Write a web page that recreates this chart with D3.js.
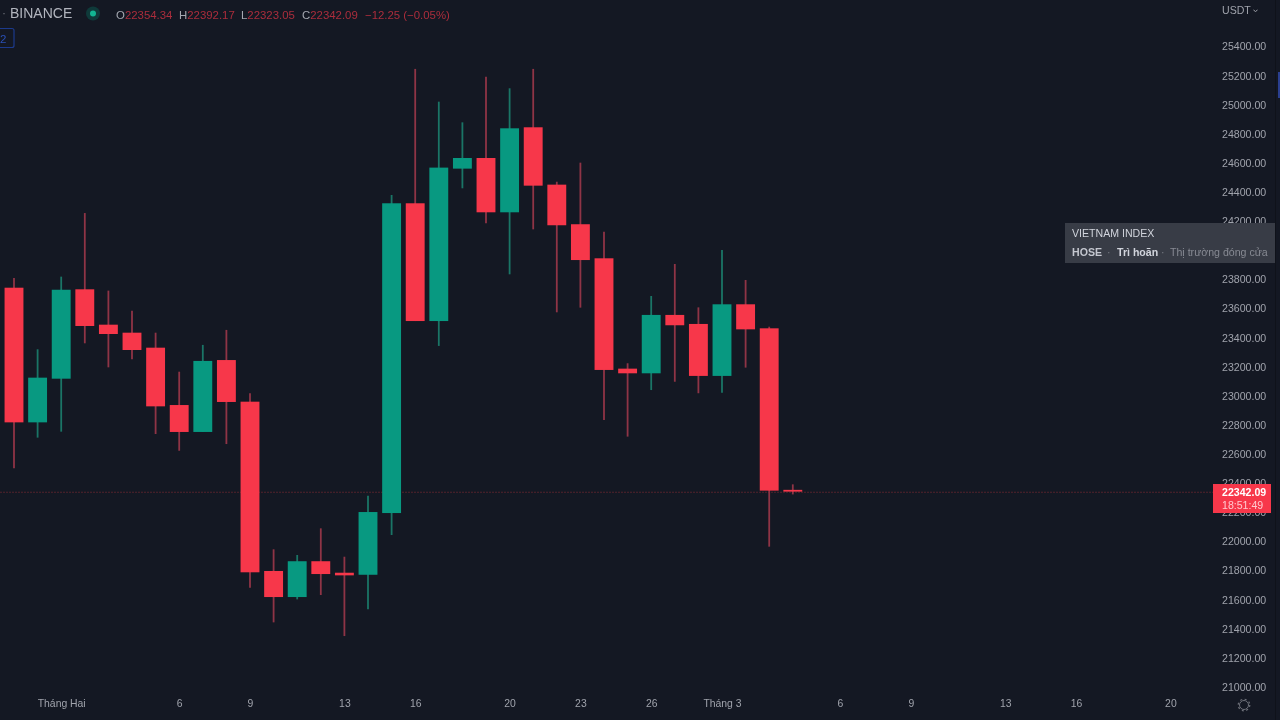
<!DOCTYPE html>
<html>
<head>
<meta charset="utf-8">
<style>
  html, body { margin: 0; padding: 0; background: #141823; overflow: hidden; }
  svg { display: block; filter: blur(0.45px); }
  text { font-family: "Liberation Sans", Arial, sans-serif; }
</style>
<script src="https://cdn.jsdelivr.net/npm/d3@7"></script>
</head>
<body>
<div id="chart"></div>
<script>
const startDate = '2023-01-30';
const opens = [23743, 22818, 23118, 23732, 23489, 23434, 23331, 22937, 22752, 23246, 22960, 21797, 21618, 21864, 21785, 21771, 22195, 24323, 23514, 24561, 24634, 24261, 24845, 24451, 24179, 23945, 23187, 23155, 23556, 23494, 23137, 23629, 23464, 22354.34];
const highs = [23810, 23320, 23819, 24256, 23723, 23585, 23434, 23166, 23350, 23453, 23018, 21946, 21907, 22090, 21895, 22314, 24380, 25246, 25021, 24879, 25193, 25113, 25246, 24471, 24602, 24128, 23224, 23686, 23906, 23608, 24002, 23796, 23475, 22392.17];
const lows = [22502, 22713, 22754, 23361, 23196, 23251, 22738, 22623, 22752, 22669, 21682, 21444, 21602, 21632, 21350, 21534, 22044, 23514, 23343, 24426, 24186, 23835, 24144, 23574, 23606, 22834, 22720, 23040, 23097, 23018, 23022, 23194, 21964, 22323.05];
const closes = [22818, 23125, 23729, 23480, 23425, 23315, 22928, 22752, 23240, 22958, 21788, 21618, 21864, 21776, 21767, 22202, 24323, 23514, 24568, 24634, 24261, 24838, 24444, 24172, 23933, 23178, 23155, 23556, 23485, 23137, 23629, 23457, 22349, 22342.09];

const priceTicks = [21000, 21200, 21400, 21600, 21800, 22000, 22200, 22400, 22600, 22800, 23000, 23200, 23400, 23600, 23800, 24000, 24200, 24400, 24600, 24800, 25000, 25200, 25400];
const timeTickDays = [2, 7, 10, 14, 17, 21, 24, 27, 30, 35, 38, 42, 45, 49];
const timeTickLabels = ['Tháng Hai', '6', '9', '13', '16', '20', '23', '26', 'Tháng 3', '6', '9', '13', '16', '20'];

const lastPrice = 22342.09;

const width = 1280, height = 720;
const upColor = '#089981', downColor = '#f7374a';
const upWick = '#1a7566', downWick = '#8f3446';
const textColor = '#a0a3ac';

const svg = d3.select('#chart').append('svg')
  .attr('width', width)
  .attr('height', height);

svg.append('rect').attr('width', width).attr('height', height).attr('fill', '#141823');

const start = new Date(startDate + 'T00:00:00Z');
const dayDate = i => d3.utcDay.offset(start, i);

const x = d3.scaleUtc().domain([dayDate(0), dayDate(49)]).range([14, 1170.4]);
const y = d3.scaleLinear().domain([21000, 25400]).range([687, 46.5]);

const candles = opens.map((o, i) => ({ i, o, h: highs[i], l: lows[i], c: closes[i] }));
const bodyWidth = (x(dayDate(1)) - x(dayDate(0))) * 0.8;

// Last price line
svg.append('line')
  .attr('x1', 0).attr('x2', 1213)
  .attr('y1', y(lastPrice) + 0.6).attr('y2', y(lastPrice) + 0.6)
  .attr('stroke', '#52222d')
  .attr('stroke-width', 1.2)
  .attr('stroke-dasharray', '2 1');

// Wicks
svg.append('g').selectAll('line')
  .data(candles)
  .join('line')
  .attr('x1', d => x(dayDate(d.i)))
  .attr('x2', d => x(dayDate(d.i)))
  .attr('y1', d => y(d.h))
  .attr('y2', d => y(d.l))
  .attr('stroke', d => d.c >= d.o ? upWick : downWick)
  .attr('stroke-width', 1.8);

// Bodies
svg.append('g').selectAll('rect')
  .data(candles)
  .join('rect')
  .attr('x', d => x(dayDate(d.i)) - bodyWidth / 2)
  .attr('y', d => y(Math.max(d.o, d.c)))
  .attr('width', bodyWidth)
  .attr('height', d => Math.abs(y(d.o) - y(d.c)))
  .attr('fill', d => d.c >= d.o ? upColor : downColor);

// Price axis
const yAxis = svg.append('g')
  .attr('transform', 'translate(1222,0)')
  .call(d3.axisRight(y).tickValues(priceTicks).tickFormat(d3.format('.2f')).tickSize(0).tickPadding(0));
yAxis.select('.domain').remove();
yAxis.selectAll('text')
  .attr('fill', textColor)
  .attr('font-size', 10.6)
  .style('font-family', '"Liberation Sans", Arial, sans-serif');

// Time axis
const xAxis = svg.append('g')
  .attr('transform', 'translate(0,700)')
  .call(d3.axisBottom(x)
    .tickValues(timeTickDays.map(dayDate))
    .tickFormat((d, i) => timeTickLabels[i])
    .tickSize(0).tickPadding(0));
xAxis.select('.domain').remove();
xAxis.selectAll('text')
  .attr('fill', textColor)
  .attr('font-size', 10.4)
  .style('font-family', '"Liberation Sans", Arial, sans-serif');

// Right edge of the price pane
svg.append('line')
  .attr('x1', 1275.5).attr('x2', 1275.5)
  .attr('y1', 0).attr('y2', height)
  .attr('stroke', '#0f121a');
svg.append('rect')
  .attr('x', 1278).attr('y', 72)
  .attr('width', 2).attr('height', 26)
  .attr('fill', '#2a3f8f');

// Header
const header = svg.append('g');
header.append('text').attr('x', 2).attr('y', 17).attr('fill', '#6e717a').attr('font-size', 12).text('·');
header.append('text').attr('x', 10).attr('y', 18).attr('fill', '#b2b5be').attr('font-size', 14).text('BINANCE');
header.append('circle').attr('cx', 93).attr('cy', 13.5).attr('r', 7).attr('fill', '#0f3a3a');
header.append('circle').attr('cx', 93).attr('cy', 13.5).attr('r', 3).attr('fill', '#12b592');

const headerItems = [
  { x: 116, label: 'O', value: opens[33] },
  { x: 179, label: 'H', value: highs[33] },
  { x: 241, label: 'L', value: lows[33] },
  { x: 302, label: 'C', value: closes[33] },
];
headerItems.forEach(d => {
  const t = header.append('text').attr('x', d.x).attr('y', 19).attr('font-size', 11.4);
  t.append('tspan').attr('fill', '#a5a8b1').text(d.label);
  t.append('tspan').attr('fill', '#ab2d3c').text(d3.format('.2f')(d.value));
});
header.append('text').attr('x', 365).attr('y', 19).attr('font-size', 11.4)
  .attr('fill', '#ab2d3c').text('−12.25 (−0.05%)');

svg.append('rect')
  .attr('x', -3).attr('y', 28.5).attr('width', 17).attr('height', 19).attr('rx', 2)
  .attr('fill', 'none').attr('stroke', '#1c3a8c').attr('stroke-width', 1.2);
svg.append('text').attr('x', 0).attr('y', 43).attr('font-size', 11.5).attr('fill', '#2a4fb5').text('2');

svg.append('text').attr('x', 1222).attr('y', 14).attr('font-size', 10.6).attr('fill', textColor).text('USDT');
svg.append('path').attr('d', d3.line()([[1253.5, 10], [1255.5, 11.5], [1257.5, 10]]))
  .attr('fill', 'none').attr('stroke', textColor);

// Market status tooltip
svg.append('rect')
  .attr('x', 1065).attr('y', 223).attr('width', 210).attr('height', 40)
  .attr('fill', '#383c46');
svg.append('text').attr('x', 1072).attr('y', 237).attr('font-size', 10.6).attr('fill', '#d1d4dc').text('VIETNAM INDEX');
const status = svg.append('text').attr('x', 1072).attr('y', 256).attr('font-size', 10.6);
status.append('tspan').attr('fill', '#c4c7cf').attr('font-weight', 'bold').text('HOSE');
status.append('tspan').attr('x', 1107).attr('fill', '#787b84').text('·');
status.append('tspan').attr('x', 1117).attr('fill', '#d1d4dc').attr('font-weight', 'bold').text('Trì hoãn');
status.append('tspan').attr('x', 1161).attr('fill', '#787b84').text('·');
status.append('tspan').attr('x', 1170).attr('fill', '#878a93').text('Thị trường đóng cửa');

// Last price tag
svg.append('rect')
  .attr('x', 1213).attr('y', 484).attr('width', 58).attr('height', 29)
  .attr('fill', '#f7374a');
svg.append('text').attr('x', 1222).attr('y', 496).attr('font-size', 10.6).attr('fill', '#fff')
  .attr('font-weight', 'bold').text(d3.format('.2f')(lastPrice));
svg.append('text').attr('x', 1222).attr('y', 509).attr('font-size', 10.6).attr('fill', '#ffc9cf').text('18:51:49');

// Settings gear
svg.append('circle').attr('cx', 1244).attr('cy', 705).attr('r', 4.5)
  .attr('fill', 'none').attr('stroke', '#6e717a').attr('stroke-width', 1);
svg.append('circle').attr('cx', 1244).attr('cy', 705).attr('r', 5.8)
  .attr('fill', 'none').attr('stroke', '#6e717a').attr('stroke-width', 1.2).attr('stroke-dasharray', '2 2.55');
</script>
</body>
</html>
